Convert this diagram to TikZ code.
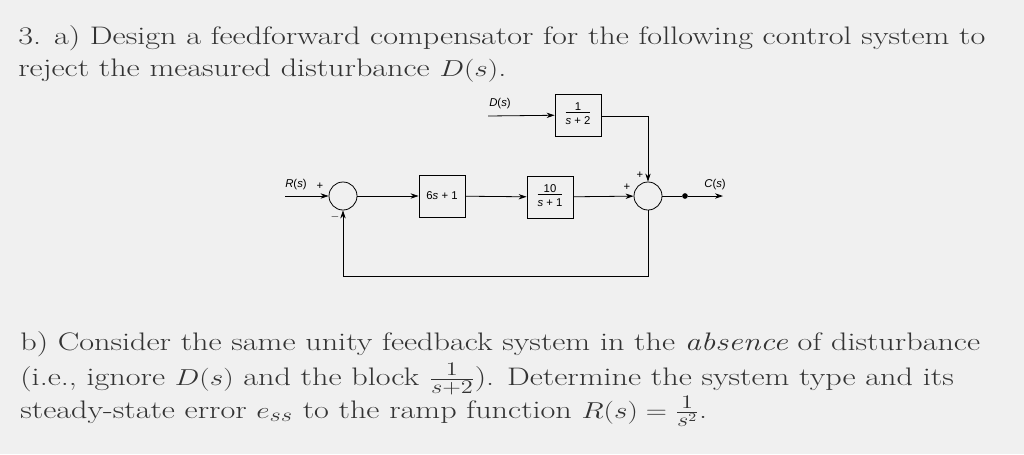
\documentclass[tikz,border=0pt]{standalone}
\usepackage{amsmath}
\usepackage{fontspec}
\newfontfamily\diag{Liberation Sans}
\usetikzlibrary{arrows.meta}
\newcommand{\dfr}[2]{\begin{tabular}{@{}c@{}}#1\\[-2pt]\hline\rule{0pt}{9pt}#2\end{tabular}}
\begin{document}
\begin{tikzpicture}[x=0.75pt,y=-0.75pt,
  txt/.style={anchor=base west,inner sep=0pt,text=black!80,font=\fontsize{19}{23}\selectfont,xscale=1.27},
  blk/.style={draw,semithick,minimum width=34.5pt,minimum height=31.5pt,inner sep=0pt,font=\diag\fontsize{8.5}{9}\selectfont},
  sumj/.style={draw,semithick,circle,minimum size=21pt,inner sep=0pt},
  lab/.style={font=\diag\fontsize{8.5}{9}\selectfont,inner sep=1pt},
  sig/.style={semithick,-{Stealth[length=6pt,width=4pt]}},
  wire/.style={semithick}]
\useasboundingbox[fill=black!6] (0,0) rectangle (1024,454);
\node[txt] (l1) at (18,44) {3. a) Design a feedforward compensator for the following control system to};
\node[txt] (l2) at (18,76) {reject the measured disturbance $D(s)$.};
\node[txt] (l3) at (20,350) {b) Consider the same unity feedback system in the \emph{absence} of disturbance};
\node[txt] (l4) at (20,385) {(i.e., ignore $D(s)$ and the block $\frac{1}{s+2}$). Determine the system type and its};
\node[txt] (l5) at (20,418) {steady-state error $e_{ss}$ to the ramp function $R(s)=\frac{1}{s^2}$.};
\node[sumj] (s1) at (343,196) {};
\node[sumj] (s2) at (648,196) {};
\node[blk] (g1) at (442,196) {6\textit{s} + 1};
\node[blk] (g2) at (550,197) {\dfr{10}{\textit{s} + 1}};
\node[blk] (g3) at (578,115) {\dfr{1}{\textit{s} + 2}};
\coordinate (rin) at (285,196);
\coordinate (din) at (488,116);
\coordinate (dturn) at (648,116);
\node[circle,fill,inner sep=1.5pt] (dot) at (685,196) {};
\coordinate (cout) at (723,196);
\coordinate (fb1) at (648,276);
\coordinate (fb2) at (343,276);
\draw[sig] (rin) -- (s1);
\draw[sig] (s1) -- (g1);
\draw[sig] (g1) -- (g2);
\draw[sig] (g2) -- (s2);
\draw[sig] (din) -- (g3);
\draw[sig] (g3.east |- dturn) -- (dturn) -- (s2);
\draw[wire] (s2) -- (dot);
\draw[sig] (dot) -- (cout);
\draw[sig] (s2) -- (fb1) -- (fb2) -- (s1);
\node[lab] (rl) at (296,185) {\textit{R}(\textit{s})};
\node[lab] (dl) at (500,104) {\textit{D}(\textit{s})};
\node[lab] (cl) at (715,185) {\textit{C}(\textit{s})};
\node[lab] (p1) at (320,186) {+};
\node[lab] (m1) at (335,217) {$-$};
\node[lab] (p2) at (627,187) {+};
\node[lab] (p3) at (640,175) {+};
\end{tikzpicture}
\end{document}
